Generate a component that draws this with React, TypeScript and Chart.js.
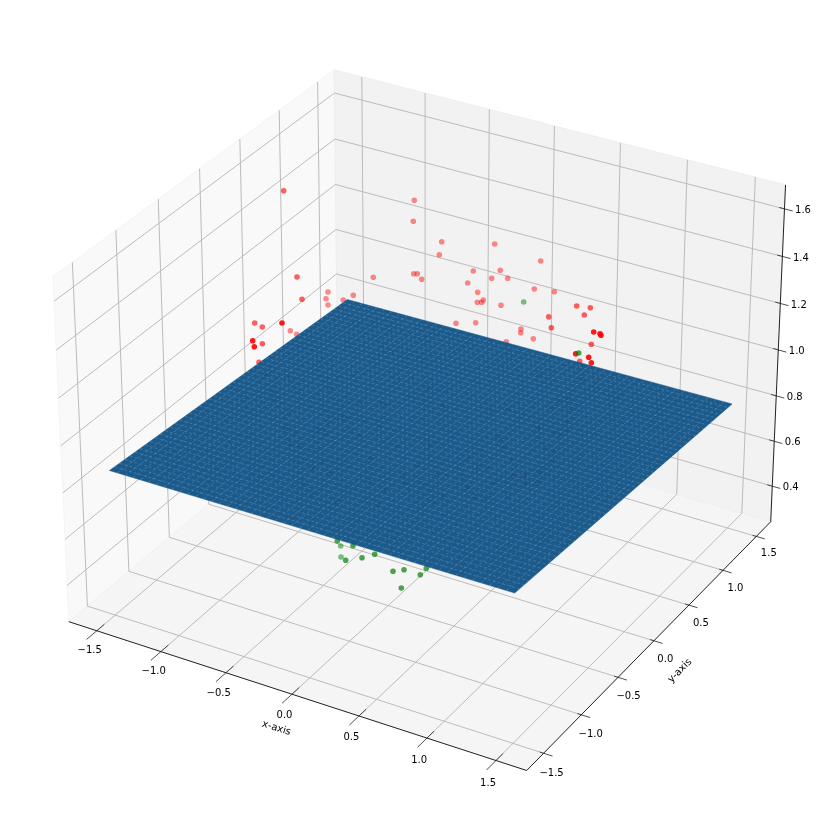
import React, { useEffect, useRef } from "react";
import { Chart, registerables } from "chart.js";

Chart.register(...registerables);

// Axis ticks
const xTicks = [-1.5, -1.0, -0.5, 0.0, 0.5, 1.0, 1.5];
const yTicks = [-1.5, -1.0, -0.5, 0.0, 0.5, 1.0, 1.5];
const zTicks = [0.4, 0.6, 0.8, 1.0, 1.2, 1.4, 1.6];
const xLabel = "x-axis";
const yLabel = "y-axis";

// Data limits of the 3D box
const xyLimit = 1.72;
const zMin = 0.24;
const zMax = 1.7;

// Fitted plane: extent and height at corners (x-,y-), (x+,y-), (x+,y+), (x-,y+)
const planeExtent = 1.5;
const planeCornerZ = [0.868, 0.875, 0.791, 0.777];
const planeCells = 50;

// Scatter marks, read in the chart's projected view plane [h, v]
const redFar: number[][] = [
  [414.3, 200.3], [413.3, 221.3], [373.3, 277.3], [413.7, 273.7], [417.3, 273.7], [421.7, 279.3],
  [328, 292], [326, 298.7], [328, 305], [353.3, 295.3], [343.3, 300], [290.3, 330.7], [296.7, 334.3],
  [441.7, 241.7], [494.7, 244], [439.3, 254.7], [540.7, 261], [473.3, 271], [500.3, 270.3],
  [491.7, 278.3], [507.7, 278.3], [467.7, 283], [477.7, 292.3], [534.3, 289], [554.3, 291.7],
  [483.3, 300], [481.7, 302.3], [477.3, 302.3], [501, 305.3], [456, 323.3], [475.7, 322.7],
  [521, 329], [520.7, 332.7], [533.3, 338.7], [506.3, 341.7],
];
const redMid: number[][] = [
  [283.7, 190.7], [254.7, 323], [262.3, 327], [262.3, 343.7], [259, 362.3], [297, 277], [302, 299.3],
  [590.3, 307.7], [576.7, 306], [584.3, 315], [591.3, 344.3], [551.3, 327.7], [579.7, 361.3], [548.7, 316.7],
];
const redNear: number[][] = [
  [252.7, 340.7], [254.3, 346.7], [282, 323], [593.7, 332], [600, 333.7], [601, 335.3],
  [575.7, 353.7], [591.3, 362.7], [588.7, 357.3],
];
const redHidden: number[][] = [
  [272.7, 391.7], [290, 378], [330, 389], [265, 375], [273, 400], [360, 403], [383, 404], [289, 412],
  [344, 418], [318, 430], [288, 427], [360, 437], [290, 443], [300, 445], [398, 448], [370, 457],
  [312, 468], [330, 474], [403, 475], [417, 465], [370, 482], [385, 490], [337, 502], [378, 504],
  [325, 433], [285, 430], [327, 422], [295, 433], [427, 388], [443, 406], [492, 411], [508, 410],
  [552, 371], [540, 375], [583, 380], [558, 401], [551, 408], [568, 399], [570, 409], [567, 422],
  [497, 437], [505, 447], [545, 447], [553, 452], [430, 444], [468, 458], [482, 452], [479, 466],
  [487, 468], [512, 460], [552, 462], [437, 474], [463, 477], [513, 476], [525, 475], [525, 483],
  [538, 483], [467, 488], [443, 496], [475, 497], [538, 428], [567, 430], [553, 433], [560, 435],
];
const greenBack: number[][] = [[523.7, 302], [340.7, 546], [341, 557]];
const greenFront: number[][] = [
  [578.7, 353], [337.3, 541], [353, 545.7], [345.7, 560.3], [362, 557.7], [374.7, 554.3],
  [393, 571.3], [404, 569.7], [426.3, 568.3], [420.3, 574.7], [401.3, 588],
];
const greenHidden: number[][] = [
  [350, 430], [297, 462], [322, 462], [312, 495], [303, 483], [405, 482], [500, 440], [540, 472],
  [508, 495], [485, 498], [493, 482], [433, 503],
];

// Projection: matplotlib's 3D view at elev 30, azim -60
const boxHalf = [0.5714, 0.5714, 0.4286];
const viewU = [0.866, 0.5, 0];
const viewV = [-0.25, 0.433, 0.866];
const viewW = [0.433, -0.75, 0.5];
const viewDist = 10;
const viewScale = 4591;
const viewCx = 426;
const viewCy = 404;

function project(x: number, y: number, z: number) {
  const d = [
    (x / xyLimit) * boxHalf[0],
    (y / xyLimit) * boxHalf[1],
    ((z - (zMin + zMax) / 2) / ((zMax - zMin) / 2)) * boxHalf[2],
  ];
  const dot = (a: number[]) => a[0] * d[0] + a[1] * d[1] + a[2] * d[2];
  const w = viewDist - dot(viewW);
  return { x: viewCx + (viewScale * dot(viewU)) / w, y: viewCy - (viewScale * dot(viewV)) / w };
}

const R = xyLimit;
const FONT = '10px "DejaVu Sans"';

function poly(pts: number[][], bg: string, border: string, width = 0.8, fill = true) {
  return {
    type: "scatter",
    showLine: true,
    data: pts.map((p) => project(p[0], p[1], p[2])),
    backgroundColor: bg,
    borderColor: border,
    borderWidth: width,
    fill: fill ? "shape" : false,
    pointRadius: 0,
    tension: 0,
  };
}
const seg = (pts: number[][], color: string, width: number) => poly(pts, "transparent", color, width, false);

function marks(pts: number[][], color: string) {
  return {
    type: "scatter",
    showLine: false,
    data: pts.map((p) => ({ x: p[0], y: p[1] })),
    backgroundColor: color,
    borderColor: color,
    borderWidth: 0,
    pointRadius: 2.8,
  };
}

function planeZ(x: number, y: number) {
  const s = (x + planeExtent) / (2 * planeExtent);
  const t = (y + planeExtent) / (2 * planeExtent);
  const c = planeCornerZ;
  return (1 - s) * (1 - t) * c[0] + s * (1 - t) * c[1] + s * t * c[2] + (1 - s) * t * c[3];
}

function buildDatasets() {
  const grid = "#bcbcbc";
  const out: any[] = [];
  // panes
  out.push(poly([[-R, -R, zMin], [-R, R, zMin], [-R, R, zMax], [-R, -R, zMax], [-R, -R, zMin]], "#f9f9f9", "#f2f2f2"));
  out.push(poly([[-R, R, zMin], [R, R, zMin], [R, R, zMax], [-R, R, zMax], [-R, R, zMin]], "#f2f2f2", "#ececec"));
  out.push(poly([[-R, -R, zMin], [R, -R, zMin], [R, R, zMin], [-R, R, zMin], [-R, -R, zMin]], "#f5f5f5", "#efefef"));
  // gridlines
  xTicks.forEach((t) => out.push(seg([[t, -R, zMin], [t, R, zMin], [t, R, zMax]], grid, 1)));
  yTicks.forEach((t) => out.push(seg([[-R, t, zMax], [-R, t, zMin], [R, t, zMin]], grid, 1)));
  zTicks.forEach((t) => out.push(seg([[R, R, t], [-R, R, t], [-R, -R, t]], grid, 1)));
  // axes
  const ink = "#222222";
  out.push(seg([[-R, -R, zMin], [R, -R, zMin]], ink, 1));
  out.push(seg([[R, -R, zMin], [R, R, zMin]], ink, 1));
  out.push(seg([[R, R, zMin], [R, R, zMax]], ink, 1));
  xTicks.forEach((t) => out.push(seg([[t, -R - 0.12, zMin], [t, -R + 0.09, zMin]], ink, 0.8)));
  yTicks.forEach((t) => out.push(seg([[R + 0.064, t, zMin], [R - 0.028, t, zMin]], ink, 0.8)));
  zTicks.forEach((t) => out.push(seg([[R + 0.06, R, t], [R - 0.038, R, t]], ink, 0.8)));
  // scatter
  out.push(marks(redHidden, "rgba(255,0,0,0.8)"));
  out.push(marks(greenHidden, "rgba(0,128,0,0.7)"));
  out.push(marks(redFar, "rgba(255,0,0,0.45)"));
  out.push(marks(redMid, "rgba(255,0,0,0.62)"));
  out.push(marks(redNear, "rgba(255,0,0,0.9)"));
  out.push(marks(greenBack, "rgba(0,128,0,0.5)"));
  out.push(marks(greenFront, "rgba(0,128,0,0.7)"));
  // surface
  const L = planeExtent;
  const c = planeCornerZ;
  out.push(poly([[-L, -L, c[0]], [L, -L, c[1]], [L, L, c[2]], [-L, L, c[3]], [-L, -L, c[0]]], "rgba(20,85,135,0.97)", "rgba(20,85,135,0.97)", 0.5));
  for (let i = 1; i < planeCells; i++) {
    const t = -L + (2 * L * i) / planeCells;
    const wire = { color: "rgba(200,228,245,0.36)", width: 0.6, dash: [3, 2] };
    const a = seg([[t, -L, planeZ(t, -L)], [t, L, planeZ(t, L)]], wire.color, wire.width) as any;
    const b = seg([[-L, t, planeZ(-L, t)], [L, t, planeZ(L, t)]], wire.color, wire.width) as any;
    a.borderDash = wire.dash;
    b.borderDash = wire.dash;
    out.push(a, b);
  }
  const n = out.length;
  out.forEach((d, i) => (d.order = n - i));
  return out;
}

const textPlugin = {
  id: "axisText",
  afterDraw(chart: any) {
    const { ctx, scales } = chart;
    const px = (p: { x: number; y: number }) => ({ x: scales.x.getPixelForValue(p.x), y: scales.y.getPixelForValue(p.y) });
    const fmt = (v: number) => (v < 0 ? "\u2212" : "") + Math.abs(v).toFixed(1);
    ctx.save();
    ctx.font = FONT;
    ctx.fillStyle = "#000";
    ctx.textAlign = "center";
    ctx.textBaseline = "middle";
    const put = (t: string, p: { x: number; y: number }, dx: number, dy: number) => {
      const q = px(p);
      ctx.fillText(t, q.x + dx, q.y + dy);
    };
    xTicks.forEach((t) => put(fmt(t), project(t, -R, zMin), -7 - (t + 1.5) * 0.3, 19.5 + (t + 1.5) * 1.2));
    yTicks.forEach((t) => put(fmt(t), project(R, t, zMin), 12.5 - (1.5 - t) * (1.5 - t) * 0.5, 17 + (1.5 - t) * 1.15));
    zTicks.forEach((t) => put(fmt(t), project(R, R, t), 18.5, 1.5));
    const rot = (t: string, p: { x: number; y: number }, deg: number) => {
      const q = px(p);
      ctx.save();
      ctx.translate(q.x, q.y);
      ctx.rotate((deg * Math.PI) / 180);
      ctx.fillText(t, 0, 0);
      ctx.restore();
    };
    const xMid = project(0, -R, zMin);
    const yMid = project(R, 0, zMin);
    rot(xLabel, { x: xMid.x - 15.5, y: xMid.y + 34 }, 17);
    rot(yLabel, { x: yMid.x + 26, y: yMid.y + 30 }, -45);
    ctx.restore();
  },
};

export default function App() {
  const ref = useRef<HTMLCanvasElement | null>(null);
  useEffect(() => {
    document.body.style.margin = "0";
    const chart = new Chart(ref.current as HTMLCanvasElement, {
      type: "scatter",
      data: { datasets: buildDatasets() as any },
      options: {
        animation: false,
        responsive: false,
        devicePixelRatio: 1,
        layout: { padding: 0, autoPadding: false },
        parsing: false,
        normalized: false,
        plugins: { legend: { display: false }, title: { display: false }, tooltip: { enabled: false } },
        scales: {
          x: { type: "linear", min: 0, max: 829, display: false },
          y: { type: "linear", min: 0, max: 829, reverse: true, display: false },
        },
      } as any,
      plugins: [textPlugin],
    });
    return () => chart.destroy();
  }, []);
  return <canvas ref={ref} width={829} height={829} style={{ display: "block" }} />;
}
